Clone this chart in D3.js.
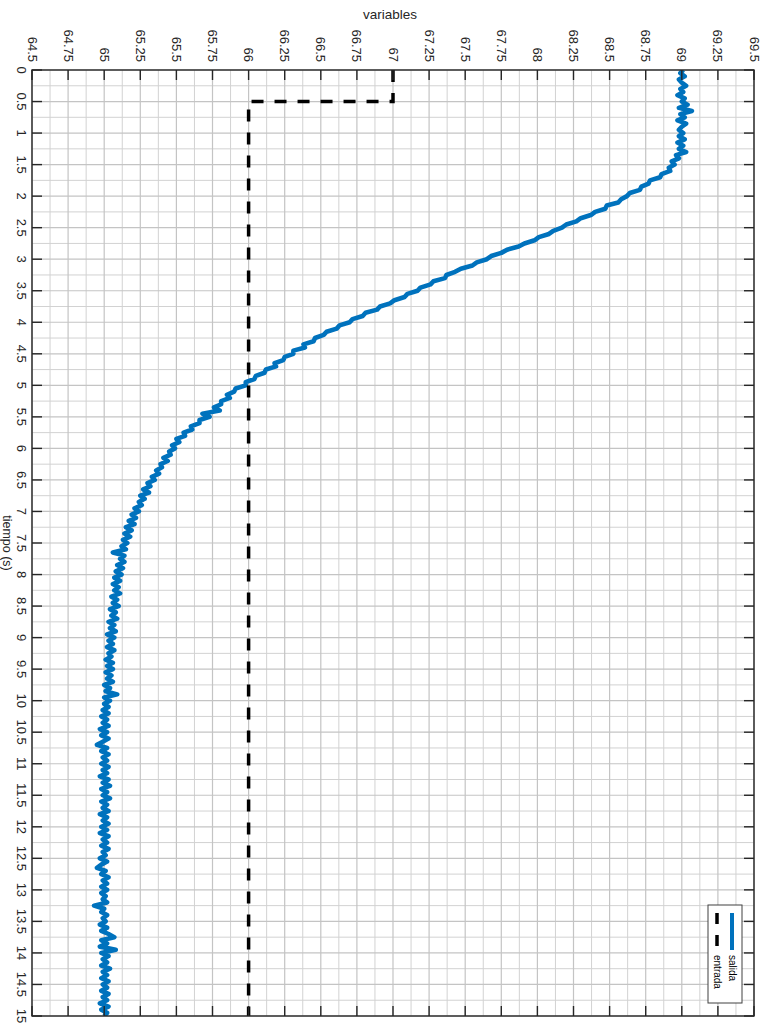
<!DOCTYPE html>
<html><head><meta charset="utf-8">
<script src="https://cdn.jsdelivr.net/npm/d3@7/dist/d3.min.js"></script>
<style>html,body{margin:0;padding:0;background:#fff;} svg{display:block;font-family:"Liberation Sans",Arial,Helvetica,sans-serif;}</style>
</head><body><svg id="c" width="768" height="1024"></svg>
<script>
// ---- data ----
const valueTicks = [64.5,64.75,65,65.25,65.5,65.75,66,66.25,66.5,66.75,67,67.25,67.5,67.75,68,68.25,68.5,68.75,69,69.25,69.5];
const valueTickLabels = ["64.5","64.75","65","65.25","65.5","65.75","66","66.25","66.5","66.75","67","67.25","67.5","67.75","68","68.25","68.5","68.75","69","69.25","69.5"];
const tiempoTicks = [0,0.5,1,1.5,2,2.5,3,3.5,4,4.5,5,5.5,6,6.5,7,7.5,8,8.5,9,9.5,10,10.5,11,11.5,12,12.5,13,13.5,14,14.5,15];
const tiempoTickLabels = ["0","0.5","1","1.5","2","2.5","3","3.5","4","4.5","5","5.5","6","6.5","7","7.5","8","8.5","9","9.5","10","10.5","11","11.5","12","12.5","13","13.5","14","14.5","15"];
const seriesNames = ["salida","entrada"];
const entradaTiempo = [0, 0.5, 0.5, 15];
const entradaValor  = [67, 67, 66, 66];
const salidaDt = 0.05; // sample period (s)
const salidaValor = [
69.01,68.99,69.02,68.98,69.00,69.03,68.99,69.01,68.97,69.02,
69.00,69.04,68.98,69.07,68.99,69.02,68.97,69.03,69.00,68.98,
69.01,68.98,69.02,68.97,69.01,68.98,69.03,68.96,68.98,68.93,
68.95,68.91,68.92,68.86,68.85,68.78,68.77,68.72,68.71,68.64,
68.62,68.58,68.56,68.48,68.47,68.40,68.37,68.30,68.27,68.20,
68.17,68.11,68.08,68.01,67.98,67.91,67.87,67.79,67.75,67.68,
67.65,67.58,67.55,67.47,67.43,67.37,67.36,67.28,67.26,67.19,
67.17,67.10,67.08,67.01,66.98,66.91,66.89,66.81,66.79,66.72,
66.70,66.63,66.61,66.54,66.52,66.46,66.45,66.38,66.39,66.31,
66.31,66.25,66.24,66.18,66.19,66.12,66.11,66.05,66.04,65.98,
65.98,65.91,65.90,65.85,65.87,65.81,65.81,65.76,65.80,65.68,
65.73,65.66,65.66,65.60,65.61,65.55,65.56,65.50,65.52,65.47,
65.49,65.45,65.46,65.41,65.44,65.39,65.40,65.36,65.38,65.33,
65.35,65.30,65.32,65.27,65.31,65.25,65.28,65.24,65.26,65.21,
65.24,65.19,65.22,65.17,65.21,65.15,65.19,65.14,65.18,65.13,
65.16,65.12,65.15,65.06,65.14,65.11,65.14,65.09,65.13,65.08,
65.12,65.07,65.11,65.06,65.10,65.07,65.11,65.05,65.09,65.06,
65.10,65.04,65.08,65.05,65.09,65.03,65.07,65.04,65.08,65.02,
65.07,65.03,65.06,65.02,65.07,65.03,65.05,65.01,65.06,65.02,
65.06,65.01,65.05,65.02,65.06,65.00,65.04,65.01,65.09,65.00,
65.04,65.00,65.03,64.99,65.03,64.98,65.02,64.99,65.03,64.97,
65.02,64.98,65.03,64.99,64.95,65.02,64.98,65.03,64.99,65.02,
64.98,65.03,64.99,65.02,64.97,65.03,64.99,65.04,64.98,65.02,
64.99,65.04,64.98,65.02,64.99,65.03,64.97,65.02,64.99,65.03,
64.98,65.02,64.97,65.03,64.99,65.02,64.98,65.03,64.99,65.01,
64.97,65.02,64.98,64.95,65.01,64.98,65.03,64.99,65.02,64.98,
65.02,64.98,65.01,64.99,65.02,64.93,65.00,64.98,65.02,64.99,
65.01,64.97,65.02,64.98,65.03,65.07,64.98,65.02,64.97,65.08,
64.98,65.03,64.99,65.02,64.98,65.04,64.99,65.02,64.98,65.03,
64.99,65.02,64.98,65.03,64.99,65.02,64.97,65.03,64.98,65.02,
65.00
];

// ---- layout (drawn in the figure's own frame, then rotated 90deg clockwise) ----
const svg = d3.select("#c");
const g = svg.append("g").attr("transform","translate(768,0) rotate(90)");
const X0 = 70, X1 = 1016, Y0 = 14, Y1 = 736;
const x = d3.scaleLinear().domain([0,15]).range([X0,X1]);
const y = d3.scaleLinear().domain([64.5,69.5]).range([Y1,Y0]);

g.append("rect").attr("x",X0).attr("y",Y0).attr("width",X1-X0).attr("height",Y1-Y0).attr("fill","#fff");

// minor grid
const minorT = d3.range(0.25,15,0.5), minorV = d3.range(64.625,69.5,0.25);
g.append("g").selectAll("line").data(minorT).join("line")
  .attr("x1",d=>x(d)).attr("x2",d=>x(d)).attr("y1",Y0).attr("y2",Y1)
  .attr("stroke","#d2d2d2").attr("stroke-width",1);
g.append("g").selectAll("line").data(minorV).join("line")
  .attr("y1",d=>y(d)).attr("y2",d=>y(d)).attr("x1",X0).attr("x2",X1)
  .attr("stroke","#d2d2d2").attr("stroke-width",1);
// major grid
g.append("g").selectAll("line").data(tiempoTicks).join("line")
  .attr("x1",d=>x(d)).attr("x2",d=>x(d)).attr("y1",Y0).attr("y2",Y1)
  .attr("stroke","#c4c4c4").attr("stroke-width",1.2);
g.append("g").selectAll("line").data(valueTicks).join("line")
  .attr("y1",d=>y(d)).attr("y2",d=>y(d)).attr("x1",X0).attr("x2",X1)
  .attr("stroke","#c4c4c4").attr("stroke-width",1.2);

// clip
g.append("clipPath").attr("id","clip").append("rect")
  .attr("x",X0).attr("y",Y0).attr("width",X1-X0).attr("height",Y1-Y0);

// series
const salida = salidaValor.map((v,i)=>({t:i*salidaDt, v}));
const entrada = entradaTiempo.map((t,i)=>({t, v:entradaValor[i]}));
const line = d3.line().x(d=>x(d.t)).y(d=>y(d.v));
g.append("path").datum(salida).attr("clip-path","url(#clip)")
  .attr("d",line).attr("fill","none").attr("stroke","#0072BD")
  .attr("stroke-width",4.6).attr("stroke-linejoin","round");
g.append("path").datum(entrada).attr("clip-path","url(#clip)")
  .attr("d",line).attr("fill","none").attr("stroke","#000")
  .attr("stroke-width",3.5).attr("stroke-dasharray","12,11");

// axes box + ticks
const axCol = "#262626";
const tl = 10;
const ax = g.append("g").attr("stroke",axCol).attr("stroke-width",1.4);
ax.append("rect").attr("x",X0).attr("y",Y0).attr("width",X1-X0).attr("height",Y1-Y0).attr("fill","none");
ax.selectAll(".tb").data(tiempoTicks).join("line").attr("class","tb")
  .attr("x1",d=>x(d)).attr("x2",d=>x(d)).attr("y1",Y1).attr("y2",Y1-tl);
ax.selectAll(".tt").data(tiempoTicks).join("line").attr("class","tt")
  .attr("x1",d=>x(d)).attr("x2",d=>x(d)).attr("y1",Y0).attr("y2",Y0+tl);
ax.selectAll(".vl").data(valueTicks).join("line").attr("class","vl")
  .attr("y1",d=>y(d)).attr("y2",d=>y(d)).attr("x1",X0).attr("x2",X0+tl);
ax.selectAll(".vr").data(valueTicks).join("line").attr("class","vr")
  .attr("y1",d=>y(d)).attr("y2",d=>y(d)).attr("x1",X1).attr("x2",X1-tl);

// tick labels
g.append("g").selectAll("text").data(valueTicks).join("text")
  .attr("x",X0-8).attr("y",d=>y(d)).attr("text-anchor","end")
  .attr("dominant-baseline","central").attr("font-size",13).attr("fill",axCol)
  .text((d,i)=>valueTickLabels[i]);
g.append("g").selectAll("text").data(tiempoTicks).join("text")
  .attr("x",d=>x(d)).attr("y",Y1+15.5).attr("text-anchor","middle")
  .attr("font-size",13).attr("fill",axCol)
  .text((d,i)=>tiempoTickLabels[i]);

// axis labels
g.append("text").attr("transform",`translate(19,${(Y0+Y1)/2+3}) rotate(-90)`)
  .attr("text-anchor","middle").attr("font-size",13.5).attr("fill",axCol).text("variables");
g.append("text").attr("x",(X0+X1)/2).attr("y",765).attr("text-anchor","middle")
  .attr("font-size",12.5).attr("fill",axCol).text("tiempo (s)");

// legend
const lg = g.append("g");
lg.append("rect").attr("x",905).attr("y",26).attr("width",98).attr("height",34)
  .attr("fill","#fff").attr("stroke","#404040").attr("stroke-width",1);
const rows = [{name:seriesNames[0], col:"#0072BD", dash:null, yy:36},
              {name:seriesNames[1], col:"#000", dash:"11,11", yy:51}];
rows.forEach(r=>{
  lg.append("line").attr("x1",913).attr("x2",950).attr("y1",r.yy).attr("y2",r.yy)
    .attr("stroke",r.col).attr("stroke-width",r.dash?3.5:4).attr("stroke-dasharray",r.dash);
  lg.append("text").attr("x",955).attr("y",r.yy).attr("dominant-baseline","central")
    .attr("font-size",10).attr("fill","#000").text(r.name);
});
</script></body></html>
